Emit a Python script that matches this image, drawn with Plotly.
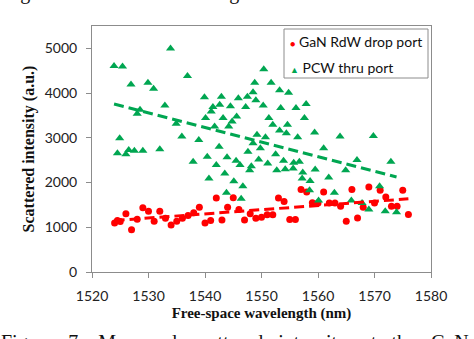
import numpy as np
import plotly.graph_objects as go

# GaN RdW drop port (red circles)
gan_wavelength = [1524, 1524.5, 1525, 1526, 1527, 1528, 1529, 1530, 1531, 1532,
                  1533, 1534, 1535, 1536, 1537, 1538, 1539, 1540, 1541, 1542,
                  1543, 1544, 1545, 1546, 1547, 1548, 1549, 1550, 1551, 1552,
                  1553, 1554, 1555, 1556, 1557, 1558, 1559, 1560, 1561, 1562,
                  1563, 1564, 1565, 1566, 1567, 1568, 1569, 1570, 1571, 1572,
                  1573, 1574, 1575, 1576]
gan_intensity = [1098, 1150, 1127, 1300, 947, 1180, 1436, 1360, 1134, 1360,
                 1202, 1052, 1134, 1202, 1262, 1323, 1450, 1098, 1150, 1652,
                 1165, 1450, 1661, 1398, 1165, 1300, 1202, 1224, 1278, 1278,
                 1652, 1578, 1172, 1172, 1842, 1788, 1549, 1540, 1788, 1540,
                 1540, 1472, 1134, 1842, 1210, 1450, 1900, 1540, 1826, 1675,
                 1472, 1472, 1826, 1285]

# PCW thru port (green triangles)
pcw_wavelength = [1523.9, 1525.4, 1533.9, 1526.9, 1529.9, 1530.9, 1536.9, 1539.9, 1532.9, 1528.5,
                  1528.0, 1534.9, 1540.1, 1535.9, 1524.9, 1538.9, 1524.5, 1526.0, 1526.5, 1527.5,
                  1529.0, 1532.0, 1537.9, 1540.4, 1540.7, 1549.2, 1550.7, 1548.5, 1549.8, 1542.5,
                  1547.6, 1552.5, 1554.4, 1553.2, 1556.4, 1559.4, 1561.0, 1543.9, 1545.5, 1542.0,
                  1546.2, 1548.2, 1547.9, 1549.5, 1551.1, 1553.9, 1555.7, 1556.7, 1552.7, 1554.2,
                  1555.6, 1557.3, 1559.5, 1557.2, 1558.6, 1543.5, 1545.1, 1546.7, 1543.8, 1546.4,
                  1558.5, 1560.1, 1550.4, 1548.8, 1551.7, 1553.2, 1554.8, 1548.5, 1542.9, 1545.9,
                  1547.5, 1549.0, 1550.3, 1544.5, 1541.4, 1542.6, 1541.1, 1547.2, 1553.4, 1556.1,
                  1557.9, 1543.2, 1545.6, 1551.3, 1557.6, 1541.7, 1544.8, 1544.2, 1552.0, 1554.6,
                  1563.9, 1569.8, 1566.9, 1572.9, 1564.9, 1561.9, 1562.9, 1570.9, 1565.9, 1567.8,
                  1569.0, 1571.9, 1573.9]
pcw_intensity = [4606, 4592, 4998, 4193, 4231, 4096, 4380, 3907, 3720, 3629,
                 3539, 3314, 3442, 3028, 2991, 2950, 2653, 2631, 2728, 2712,
                 2712, 2743, 2464, 2577, 2090, 3066, 3014, 2879, 2766, 2802,
                 2689, 2631, 3104, 3163, 3014, 3118, 2766, 2563, 2487, 2390,
                 2390, 2367, 2277, 2518, 2428, 2487, 2441, 2464, 2277, 2299,
                 2315, 2225, 2293, 2090, 2036, 2202, 2029, 1916, 1774, 1639,
                 1826, 1601, 4531, 4231, 4231, 4065, 4006, 4020, 3916, 3884,
                 3916, 3839, 3720, 3704, 3690, 3742, 3591, 3690, 3668, 3668,
                 3758, 3442, 3478, 3442, 3442, 3253, 3366, 3253, 3291, 3291,
                 3028, 3043, 2502, 2464, 2277, 2112, 1774, 1916, 1601, 1540,
                 1398, 1360, 1337]

x_ticks = [1520, 1530, 1540, 1550, 1560, 1570, 1580]
y_ticks = [0, 1000, 2000, 3000, 4000, 5000]

RED = "#ff0000"
GREEN = "#00a651"


def linear_trend(x, y):
    # least-squares straight line spanning the measured range
    slope, intercept = np.polyfit(x, y, 1)
    xs = np.array([min(x), max(x)])
    return xs, slope * xs + intercept


fig = go.Figure()

fig.add_trace(go.Scatter(
    x=gan_wavelength, y=gan_intensity, mode="markers", name="GaN RdW drop port",
    marker=dict(symbol="circle", size=7, color=RED), showlegend=False))
fig.add_trace(go.Scatter(
    x=pcw_wavelength, y=pcw_intensity, mode="markers", name="PCW thru port",
    marker=dict(symbol="triangle-up", size=8, color=GREEN), showlegend=False))

for xs_data, ys_data, col in [(gan_wavelength, gan_intensity, RED),
                              (pcw_wavelength, pcw_intensity, GREEN)]:
    tx, ty = linear_trend(xs_data, ys_data)
    fig.add_trace(go.Scatter(
        x=tx, y=ty, mode="lines", showlegend=False, hoverinfo="skip",
        line=dict(color=col, width=3, dash="10px,5px")))

W, H = 474, 339
ML, MR, MT, MB = 92, 43, 26, 67
PW, PH = W - ML - MR, H - MT - MB


def px_x(p):
    return (p - ML) / PW


def px_y(p):
    return (H - MB - p) / PH


axis_common = dict(
    showgrid=False, zeroline=False, showline=True, linecolor="#8c8c8c",
    linewidth=1, mirror=True, ticks="outside", ticklen=5, tickcolor="#8c8c8c",
    tickfont=dict(family="Lato", size=14, color="#222"))

fig.update_layout(
    width=W, height=H, autosize=False,
    margin=dict(l=ML, r=MR, t=MT, b=MB, pad=0),
    paper_bgcolor="white", plot_bgcolor="white",
    xaxis=dict(range=[1520, 1580], tickvals=x_ticks, ticklabelstandoff=6,
               title=dict(text="<b>Free-space wavelength (nm)</b>", standoff=4,
                          font=dict(family="Liberation Serif", size=15, color="#111")),
               **axis_common),
    yaxis=dict(range=[0, 5500], tickvals=y_ticks, ticklabelstandoff=6,
               title=dict(text="<b>Scattered intensity (a.u.)</b>", standoff=6,
                          font=dict(family="Liberation Serif", size=16, color="#111")),
               **axis_common),
    showlegend=False,
)

# legend box
fig.add_shape(type="rect", xref="paper", yref="paper",
              x0=px_x(284), x1=px_x(428), y0=px_y(78), y1=px_y(29),
              line=dict(color="#8c8c8c", width=1), fillcolor="white", layer="above")
legend_items = [
    (f"<span style='color:{RED};font-size:9px'>●</span> GaN RdW drop port", 41),
    (f"<span style='color:{GREEN};font-size:9px'>▲</span> PCW thru port", 67),
]
for txt, yc in legend_items:
    fig.add_annotation(text=txt, xref="paper", yref="paper", x=px_x(288), y=px_y(yc),
                       xanchor="left", yanchor="middle", showarrow=False,
                       font=dict(family="Lato", size=14, color="#111"))

# surrounding document text (justified caption line uses widened word gaps)
GAP = " \u00a0\u00a0"
caption = GAP.join(["Figure", "7.", "Measured", "scattered", "intensity", "at", "the", "GaN"])
fig.add_annotation(text="waveguide at different wavelength.", xref="paper", yref="paper",
                   x=0, y=1, xanchor="left", yanchor="bottom", xshift=-ML - 24, yshift=20,
                   showarrow=False, font=dict(family="Liberation Serif", size=20, color="#111"))
fig.add_annotation(text=caption, xref="paper",
                   yref="paper", x=0, y=0, xanchor="left", yanchor="top", xshift=-ML - 1,
                   yshift=-57, showarrow=False,
                   font=dict(family="Liberation Serif", size=20, color="#111"))

fig.write_html("out.html")
